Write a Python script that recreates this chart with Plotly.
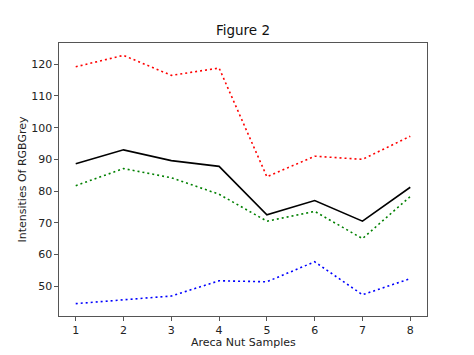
import plotly.graph_objects as go

samples = [1, 2, 3, 4, 5, 6, 7, 8]
red = [119.2, 122.8, 116.5, 118.8, 84.5, 91.0, 90.0, 97.3]
black = [88.6, 93.0, 89.6, 87.8, 72.5, 77.0, 70.5, 81.2]
green = [81.7, 87.1, 84.2, 79.0, 70.5, 73.6, 65.0, 78.3]
blue = [44.5, 45.6, 46.9, 51.7, 51.4, 57.7, 47.3, 52.4]

dotted = "2px,3px"
fig = go.Figure()
fig.add_trace(go.Scatter(x=samples, y=red, mode="lines", line=dict(color="red", width=1.6, dash=dotted)))
fig.add_trace(go.Scatter(x=samples, y=black, mode="lines", line=dict(color="black", width=1.6)))
fig.add_trace(go.Scatter(x=samples, y=green, mode="lines", line=dict(color="green", width=1.6, dash=dotted)))
fig.add_trace(go.Scatter(x=samples, y=blue, mode="lines", line=dict(color="blue", width=1.6, dash=dotted)))

# page body has an 8px default margin: shift the figure accordingly
W, H = 451, 347
L, T, R, B = 51, 35, 32, 39
ph = H - T - B
pw = W - L - R

axis_common = dict(showgrid=False, zeroline=False, showline=True, mirror=True, automargin=False,
                   linecolor="#555555", linewidth=1.2, ticks="outside", ticklen=3.5,
                   tickcolor="#555555", tickfont=dict(size=11, color="#222222"))
fig.update_layout(
    width=W, height=H,
    margin=dict(l=L, r=R, t=T, b=B),
    paper_bgcolor="white", plot_bgcolor="white",
    showlegend=False,
    font=dict(family="DejaVu Sans", size=11, color="#222222"),
    title=dict(text="Figure 2", x=0.5, xref="paper", xanchor="center", y=1 - 22/H, yanchor="middle",
               font=dict(size=13.5, color="#111111")),
    xaxis=dict(range=[0.65, 8.35], tickvals=samples, **axis_common),
    yaxis=dict(range=[40.6, 126.7], tickvals=[50, 60, 70, 80, 90, 100, 110, 120], **axis_common),
    annotations=[
        dict(text="Areca Nut Samples", xref="paper", yref="paper", x=0.5, y=-26.5/ph,
             xanchor="center", yanchor="middle", showarrow=False, borderpad=0,
             font=dict(size=11, color="#222222")),
        dict(text="Intensities Of RGBGrey", xref="paper", yref="paper", x=-37/pw, y=0.5,
             xanchor="center", yanchor="middle", textangle=-90, showarrow=False, borderpad=0,
             font=dict(size=11, color="#222222")),
    ],
)
fig.write_html("out.html")
